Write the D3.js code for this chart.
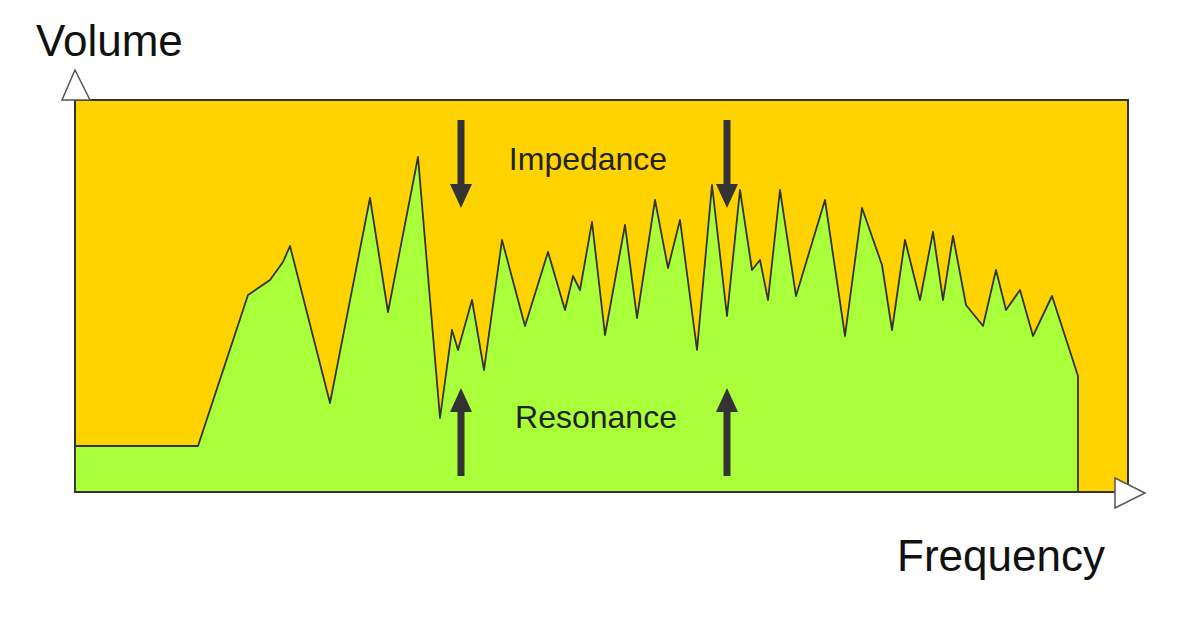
<!DOCTYPE html>
<html><head><meta charset="utf-8">
<script src="https://cdn.jsdelivr.net/npm/d3@7"></script>
<style>body{margin:0;background:#fff}text{font-family:"Liberation Sans",Arial,sans-serif}</style>
</head><body><svg id="c" width="1190" height="617"></svg>
<script>
// frequency (arbitrary units) and volume (arbitrary units)
const freq =   [0,123,173,195,208,215,255,295,313,343,365,377,383,397,409,427,450,473,490,498,505,517,530,550,562,580,593,605,622,637,652,665,677,685,693,705,721,750,770,787,807,817,830,845,858,868,878,891,908,921,931,945,958,977,1003,1003];
const volume = [46,46,197,212,230,246,89,294,180,335,74,162,142,192,122,252,166,240,182,216,202,270,157,267,174,292,224,272,142,307,176,302,222,232,192,302,196,292,156,284,227,162,252,192,260,192,256,187,166,222,182,202,156,196,116,0];
const labels = {y:"Volume", x:"Frequency", top:"Impedance", bottom:"Resonance"};
const arrowFreq = [386, 652];

const svg = d3.select("#c");
const L=75,T=100,R=1128,B=492;
const x = d3.scaleLinear().domain([0,1053]).range([L,R]);
const y = d3.scaleLinear().domain([0,392]).range([B,T]);

svg.append("rect").attr("x",L).attr("y",T).attr("width",R-L).attr("height",B-T)
  .attr("fill","#FFD300").attr("stroke","#333").attr("stroke-width",2);
const pts = freq.map((f,i)=>[x(f),y(volume[i])]);
pts.push([x(0),y(0)]);
svg.append("path").attr("d",d3.line()(pts)+"Z").attr("fill","#A8FF3A")
  .attr("stroke","#333").attr("stroke-width",1.8).attr("stroke-linejoin","round");
svg.append("line").attr("x1",L).attr("x2",R).attr("y1",B).attr("y2",B).attr("stroke","#333").attr("stroke-width",2);

svg.append("path").attr("d",`M${L-13},${T} L${L+15},${T} L${L},${T-30}Z`).attr("fill","#fff").attr("stroke","#555").attr("stroke-width",1.5);
svg.append("path").attr("d",`M${R-13},${B-14} L${R-13},${B+16} L${R+17},${B+1}Z`).attr("fill","#fff").attr("stroke","#555").attr("stroke-width",1.5);

function arrow(xp,y0,y1){
  const d=y1>y0?1:-1;
  svg.append("line").attr("x1",xp).attr("x2",xp).attr("y1",y0).attr("y2",y1-d*22)
    .attr("stroke","#333").attr("stroke-width",7);
  svg.append("path").attr("d",`M${xp-11},${y1-d*24} L${xp+11},${y1-d*24} L${xp},${y1}Z`).attr("fill","#333");
}
arrowFreq.forEach(f=>{arrow(x(f),120,208);arrow(x(f),476,388);});

svg.append("text").attr("x",588).attr("y",170).attr("text-anchor","middle").attr("font-size",32).attr("fill","#222").text(labels.top);
svg.append("text").attr("x",596).attr("y",428).attr("text-anchor","middle").attr("font-size",32).attr("fill","#222").text(labels.bottom);
svg.append("text").attr("x",36).attr("y",56).attr("font-size",44).attr("fill","#111").text(labels.y);
svg.append("text").attr("x",897).attr("y",571).attr("font-size",44).attr("fill","#111").text(labels.x);
</script></body></html>
